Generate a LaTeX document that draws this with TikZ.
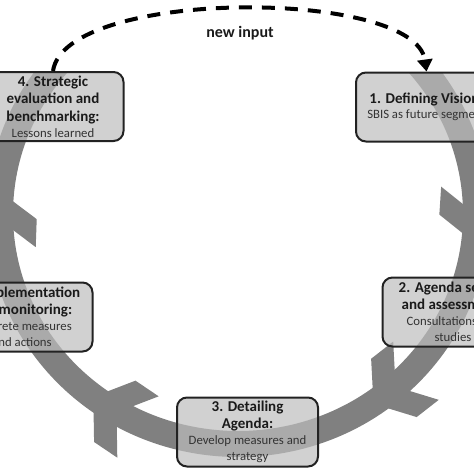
\documentclass[tikz,border=0pt]{standalone}
\usepackage{fontspec}
\setmainfont{Carlito}
\usetikzlibrary{calc,arrows.meta}
\definecolor{ringgray}{RGB}{128,128,128}
\definecolor{boxfill}{RGB}{189,189,189}
\definecolor{boxline}{RGB}{34,34,34}
\definecolor{titletext}{RGB}{26,26,26}
\definecolor{subtext}{RGB}{51,51,51}
\newcommand\subl[1]{{\mdseries\color{subtext}\fontsize{12.75}{16}\selectfont #1}}
\begin{document}
\begin{tikzpicture}[x=1pt,y=-1pt,
  stage/.style={draw=boxline, line width=2pt, rounded corners=10pt, fill=boxfill,
    fill opacity=0.7, text opacity=1, minimum width=141pt, minimum height=69pt,
    inner sep=0pt, align=center, font=\fontsize{15}{17.5}\selectfont\bfseries, text=titletext},
  ringband/.style={draw=ringgray, line width=26pt},
  barbshape/.style={fill=ringgray},
  newinput/.style={draw=black, line width=4pt, dash pattern=on 13pt off 10pt,
    -{Triangle[length=12pt,width=15pt]}},
  lbl/.style={font=\fontsize{16}{19}\selectfont\bfseries, text=titletext}]
\useasboundingbox (0,0) rectangle (474,474);
\clip (0,0) rectangle (474,474);
\coordinate (C) at (238,214);
% ring with barbs
\begin{scope}
  \clip (-20,72.5) rectangle (500,500);
  \draw[ringband] ($(C)+(-45:238 and 230)$) arc[start angle=-45, end angle=225, x radius=238, y radius=230];
  \foreach \ang in {3.7,52,124,182}{
    \coordinate (P) at ($(C)+(\ang:238 and 230)$);
    \fill[barbshape] ($(P)+(\ang+90:14)$) -- ($(P)+(\ang-90:11.9)+(\ang:37)$)
      -- ($(P)+(\ang-90:39.9)+(\ang:37)$) -- ($(P)+(\ang-90:14)$)
      -- ($(P)+(\ang-90:39.9)+(\ang+180:37)$) -- ($(P)+(\ang-90:11.9)+(\ang+180:37)$) -- cycle;
  }
\end{scope}
% stages
\node[stage] (b1) at (426.5,107) {1. Defining Vision:\\[-2.5pt]\subl{SBIS as future segment}};
\node[stage] (b2) at (453,312) {2. Agenda setting\\and assessment:\\[-1.5pt]\subl{Consultations and}\\[-1.5pt]\subl{studies}};
\node[stage] (b3) at (247.5,432) {3. Detailing\\Agenda:\\[-1.5pt]\subl{Develop measures and}\\[-1.5pt]\subl{strategy}};
\node[stage] (b5) at (22,317) {5. Implementation\\and monitoring:\\[-1.5pt]\subl{Concrete measures}\\[-1.5pt]\subl{and actions}};
\node[stage] (b4) at (53,106.5) {4. Strategic\\evaluation and\\benchmarking:\\[-1.5pt]\subl{Lessons learned}};
% new input
\draw[newinput] (b4.north) .. controls (65,-12) and (415,-12) .. (b1.north);
\node[lbl] (ni) at (240,33) {new input};
\end{tikzpicture}
\end{document}
